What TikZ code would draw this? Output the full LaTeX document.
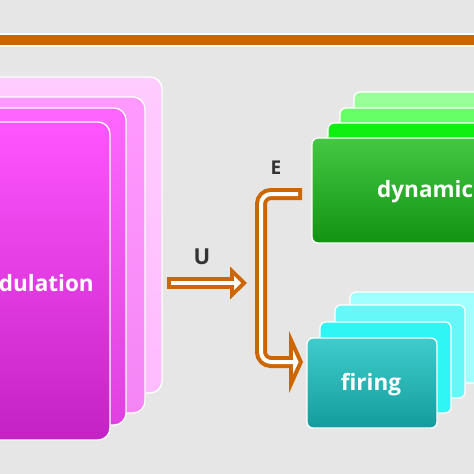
\documentclass[tikz,border=0pt]{standalone}
\usepackage{fontspec}
\setmainfont{Open Sans}
\usetikzlibrary{arrows.meta}
\definecolor{bg}{HTML}{E6E6E6}
\definecolor{orng}{HTML}{CC6600}
\definecolor{dark}{HTML}{333333}
\definecolor{mgAt}{HTML}{FFCCFF}\definecolor{mgAb}{HTML}{FFBBFF}
\definecolor{mgBt}{HTML}{FF99FF}\definecolor{mgBb}{HTML}{F585F5}
\definecolor{mgCt}{HTML}{FF66FF}\definecolor{mgCb}{HTML}{E040E0}
\definecolor{mgDt}{HTML}{FF55FF}\definecolor{mgDb}{HTML}{C422C4}
\definecolor{grA}{HTML}{99FF99}
\definecolor{grB}{HTML}{66FF66}
\definecolor{grC}{HTML}{11EE11}
\definecolor{grDt}{HTML}{44C844}\definecolor{grDb}{HTML}{129412}
\definecolor{cyA}{HTML}{A0FFFF}
\definecolor{cyB}{HTML}{66F8F8}
\definecolor{cyC}{HTML}{30F5F5}
\definecolor{cyDt}{HTML}{40CCCC}\definecolor{cyDb}{HTML}{139C9C}
\tikzset{
  card/.style={draw=white, line width=1.3pt, rounded corners=12pt, inner sep=0pt, outer sep=0pt, anchor=north west},
  smallcard/.style={card, rounded corners=6pt},
  lbl/.style={text=white, inner sep=0pt, font=\bfseries\fontsize{22.5}{22.5}\selectfont},
  arrlbl/.style={text=dark, inner sep=0pt},
  arrowout/.style={draw=orng, line width=12pt},
  arrowin/.style={draw=white, line width=4pt},
}
\begin{document}
\begin{tikzpicture}[x=1pt,y=-1pt]
\useasboundingbox (0,0) rectangle (474,474);
\clip (0,0) rectangle (474,474);
\fill[bg] (0,0) rectangle (474,474);
% top bar
\fill[white] (0,32.5) rectangle (474,46.5);
\fill[orng] (0,34.5) rectangle (474,44.5);
% magenta stack
\node[card, top color=mgAt, bottom color=mgAb, minimum width=182pt, minimum height=316pt] (mg4) at (-20,77) {};
\node[card, top color=mgBt, bottom color=mgBb, minimum width=165pt, minimum height=316pt] (mg3) at (-20,97) {};
\node[card, top color=mgCt, bottom color=mgCb, minimum width=146pt, minimum height=317pt] (mg2) at (-20,108) {};
\node[card, top color=mgDt, bottom color=mgDb, minimum width=130pt, minimum height=318pt] (mg1) at (-20,122) {};
\node[lbl, anchor=east] (modtxt) at (94,283) {dulation};
% green stack
\node[smallcard, fill=grA, minimum width=160pt, minimum height=130pt] (gr4) at (354,92) {};
\node[smallcard, fill=grB, minimum width=170pt, minimum height=125pt] (gr3) at (340,108) {};
\node[smallcard, fill=grC, minimum width=180pt, minimum height=115pt] (gr2) at (328,123) {};
\node[smallcard, top color=grDt, bottom color=grDb, minimum width=190pt, minimum height=105pt] (gr1) at (312,138) {};
\node[lbl, anchor=west] (dyntxt) at (377,192) {dynamic};
% cyan stack
\node[smallcard, fill=cyA, minimum width=140pt, minimum height=91pt] (cy4) at (350,292) {};
\node[smallcard, fill=cyB, minimum width=130pt, minimum height=93pt] (cy3) at (335,305) {};
\node[smallcard, fill=cyC, minimum width=131pt, minimum height=91pt] (cy2) at (320,322) {};
\node[smallcard, top color=cyDt, bottom color=cyDb, minimum width=130pt, minimum height=90pt] (cy1) at (307,338) {};
\node[lbl] (firetxt) at (371,385) {firing};
% labels
\node[arrlbl, font=\bfseries\fontsize{22}{22}\selectfont] (ulbl) at (202,257) {U};
\node[arrlbl, font=\bfseries\fontsize{19}{19}\selectfont] (elbl) at (276,168) {E};
% U arrow
\coordinate (u0) at (167,283);
\coordinate (u1) at (247,283);
\draw[arrowout, -{Triangle[length=17pt,width=32pt]}] (u0) -- (u1);
\draw[arrowin, shorten <=4pt, shorten >=5.8pt, -{Triangle[length=7.2pt,width=13.6pt]}] (u0) -- (u1);
% bracket arrow
\coordinate (e0) at (302,194);
\coordinate (bend) at (261,362);
\coordinate (e1) at (303,362);
\draw[arrowout, rounded corners=10pt, -{Triangle[length=14pt,width=62pt]}] (e0) -| (bend) -- (e1);
\draw[arrowin, rounded corners=10pt, shorten <=4pt, shorten >=4.4pt, -{Triangle[length=5.6pt,width=24pt]}] (e0) -| (bend) -- (e1);
\end{tikzpicture}
\end{document}
